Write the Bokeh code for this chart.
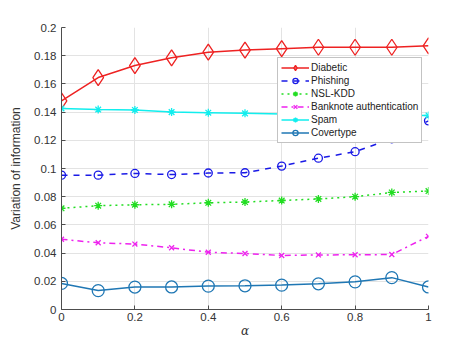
from bokeh.plotting import figure
from bokeh.models import FixedTicker, CustomJSTickFormatter, Range1d
from bokeh.embed import file_html
from bokeh.resources import INLINE

alpha = [0, 0.1, 0.2, 0.3, 0.4, 0.5, 0.6, 0.7, 0.8, 0.9, 1.0]
diabetic = [0.148, 0.1645, 0.173, 0.1785, 0.1825, 0.184, 0.185, 0.186, 0.186, 0.186, 0.187]
phishing = [0.0953, 0.0953, 0.0965, 0.0957, 0.0968, 0.097, 0.1017, 0.1073, 0.1119, 0.1211, 0.1338]
nslkdd = [0.0718, 0.0736, 0.0743, 0.0746, 0.0757, 0.0762, 0.0773, 0.0784, 0.0800, 0.0830, 0.0840]
banknote = [0.0498, 0.0473, 0.0464, 0.0438, 0.0406, 0.0397, 0.0383, 0.0387, 0.0388, 0.0390, 0.0519]
spam = [0.1426, 0.1418, 0.1415, 0.1400, 0.1396, 0.1391, 0.1386, 0.1382, 0.1380, 0.1378, 0.1376]
covertype = [0.0185, 0.0134, 0.0159, 0.0160, 0.0166, 0.0168, 0.0173, 0.0182, 0.0196, 0.0226, 0.0160]

xticks = [0, 0.2, 0.4, 0.6, 0.8, 1.0]
yticks = [0, 0.02, 0.04, 0.06, 0.08, 0.1, 0.12, 0.14, 0.16, 0.18, 0.2]

p = figure(width=458, height=340, output_backend="svg", toolbar_location=None,
           x_range=Range1d(0, 1), y_range=Range1d(0, 0.2),
           min_border_left=61, min_border_right=30, min_border_top=27, min_border_bottom=0)
p.outline_line_color = None
p.background_fill_color = "white"

fmt = CustomJSTickFormatter(code="return String(Math.round(tick*100)/100);")
for ax, ticks in ((p.xaxis[0], xticks), (p.yaxis[0], yticks)):
    ax.ticker = FixedTicker(ticks=ticks)
    ax.formatter = fmt
    ax.major_tick_in = 4
    ax.major_tick_out = 0
    ax.minor_tick_in = 0
    ax.minor_tick_out = 0
    ax.axis_line_color = "#4d4d4d"
    ax.major_tick_line_color = "#4d4d4d"
    ax.major_label_text_font = "Liberation Sans"
    ax.major_label_text_font_size = "11.5px"
    ax.major_label_text_color = "#333333"
    ax.axis_label_text_font = "Liberation Sans"
    ax.axis_label_text_font_size = "12px"
    ax.axis_label_text_color = "#333333"
    ax.axis_label_text_font_style = "normal"

p.xaxis[0].axis_label = "α"
p.xaxis[0].axis_label_text_font = "DejaVu Serif"
p.xaxis[0].axis_label_text_font_style = "italic"
p.xaxis[0].axis_label_standoff = 0
p.xaxis[0].major_label_standoff = 3
p.yaxis[0].axis_label = "Variation of information"
p.yaxis[0].axis_label_standoff = 8

p.grid.grid_line_color = "#e3e3e3"
p.grid.grid_line_width = 1

series = [
    ("Diabetic", diabetic, "#ee2222", "solid", "diamond", 16),
    ("Phishing", phishing, "#1a1ae6", "dashed", "circle", 8),
    ("NSL-KDD", nslkdd, "#22dd22", "dotted", "asterisk", 8),
    ("Banknote authentication", banknote, "#ee22ee", "dashdot", "x", 7),
    ("Spam", spam, "#11eeee", "solid", "asterisk", 8),
    ("Covertype", covertype, "#1f77b4", "solid", "circle", 12),
]
for name, ys, col, dash, marker, size in series:
    p.line(alpha, ys, line_color=col, line_dash=dash, line_width=1.5, legend_label=name)
    p.scatter(alpha, ys, marker=marker, size=size, line_color=col, fill_color=None,
              line_width=1.3, legend_label=name)

lg = p.legend[0]
lg.location = (216, 166)
lg.border_line_color = "#888888"
lg.border_line_width = 1
lg.background_fill_alpha = 1
lg.label_text_font = "Liberation Sans"
lg.label_text_font_size = "10px"
lg.label_text_color = "#222222"
lg.glyph_width = 28
lg.glyph_height = 13
lg.label_height = 13
lg.spacing = 0
lg.padding = 3
lg.margin = 0
lg.label_standoff = 2

open("out.html", "w").write(file_html(p, INLINE))
